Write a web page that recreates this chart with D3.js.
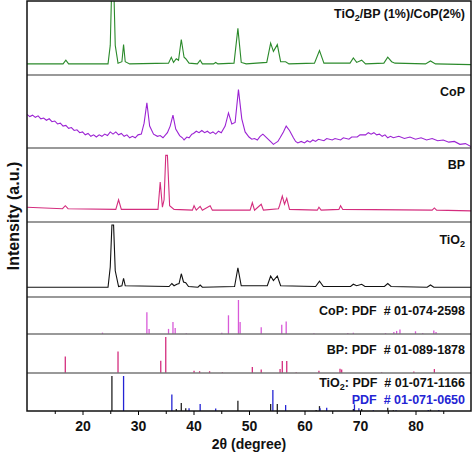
<!DOCTYPE html>
<html><head><meta charset="utf-8">
<script src="https://cdn.jsdelivr.net/npm/d3@7"></script>
<style>body{margin:0;background:#fff}svg{font-family:"Liberation Sans",Arial,sans-serif;font-weight:bold}text{white-space:pre}</style>
</head><body><svg id="xrd" width="474" height="453"></svg>
<script>
// measured curves [2theta, intensity 0-100 within panel]
var compositeData = [[10,15],[16.5,15],[17,20],[17.5,15],[24.6,15],[25.0,40],[25.3,130],[25.6,130],[25.9,40],[26.4,16],[27.1,18],[27.4,41],[27.7,18],[28.5,15],[35.5,16],[36.0,24],[36.4,17],[36.9,22],[37.3,20],[37.8,48],[38.3,24],[38.6,22],[39.2,16],[40.7,15],[41.2,20],[41.6,15],[43.6,15],[44.0,17],[44.4,15],[47.3,16],[48.0,63],[48.6,17],[49.5,15],[53.2,17],[53.9,43],[54.4,32],[55.1,41],[55.7,18],[56.6,18],[57.2,15],[61.8,16],[62.7,33],[63.5,16],[68.2,16],[68.8,23],[69.4,17],[70.3,20],[71.0,15],[74.3,16],[75.0,24],[75.7,18],[76.3,16],[81.8,15],[82.7,19],[83.6,15],[90,14]];
var copData = [[10,46],[10.5,43],[11,45],[11.5,42],[12,44],[12.5,40],[13,41],[13.5,38],[14,40],[14.5,36],[15,37],[15.5,33],[16,34],[16.5,30],[17,31],[17.5,27],[18,28],[18.5,24],[19,25],[19.5,21],[20,22],[20.5,18],[21,20],[21.5,16],[22,18],[22.5,15],[23,18],[23.5,16],[24,19],[24.5,17],[25,22],[25.5,19],[26,22],[26.5,18],[27,20],[27.5,16],[28,18],[28.5,14],[29,16],[29.5,14],[30,18],[30.6,19],[31.1,34],[31.6,62],[32.1,30],[32.8,19],[33.5,16],[34,17],[34.5,14],[35.3,21],[35.8,30],[36.3,45],[36.8,26],[37.5,17],[38,14],[38.3,11],[38.8,15],[39.2,14],[39.7,19],[40,20],[40.5,23],[41,21],[41.5,24],[42,21],[42.5,23],[43,20],[43.5,22],[44,19],[44.5,23],[45,21],[45.7,30],[46.3,48],[46.9,33],[47.5,35],[48.1,80],[48.7,40],[49.3,22],[50,15],[50.5,12],[51,13],[51.5,11],[52,16],[52.5,19],[53.2,14],[54,8],[54.4,5],[54.8,7],[55.2,9],[55.6,14],[56.2,22],[56.7,30],[57.3,24],[58,14],[58.4,9],[58.8,7],[59.4,9],[60,7],[60.5,10],[61,8],[61.5,11],[62,9],[62.5,12],[63.5,10],[64,13],[65,11],[65.5,13],[66.5,11],[67,14],[68,12],[68.5,15],[69.5,15],[70,18],[71,18],[71.5,21],[72,19],[72.5,21],[73,18],[73.5,19],[74,16],[74.5,18],[75,14],[75.5,16],[76,14],[77,16],[78,13],[79,15],[80,12],[81,14],[82,11],[83,13],[84,10],[85,11],[86,8],[87,9],[88,5],[89,6],[90,2]];
var bpData = [[10,20],[16.4,18],[16.9,22],[17.4,18],[26.0,17],[26.5,30],[27.0,17],[33.6,17],[34.0,54],[34.4,20],[34.7,30],[35.0,90],[35.3,90],[35.7,22],[36.5,17],[39.8,16],[40.1,22],[40.5,16],[41.2,21],[41.6,16],[43.0,22],[43.4,16],[50.2,16],[50.6,26],[51.0,16],[52.2,24],[52.6,16],[55.3,18],[55.5,22],[56.0,35],[56.4,24],[56.8,32],[57.3,17],[62.3,16],[62.6,20],[63.0,16],[66.2,17],[66.5,22],[66.9,17],[83.0,16],[83.4,19],[83.8,16],[90,15]];
var tio2Data = [[10,13],[24.6,13],[25.0,40],[25.3,96],[25.6,96],[25.9,35],[26.5,14],[27.1,15],[27.4,25],[27.7,15],[35.6,14],[36.1,18],[36.5,15],[37.0,17],[37.4,18],[37.8,31],[38.2,20],[38.6,19],[39.1,14],[40.8,13],[41.2,16],[41.6,13],[47.4,14],[48.0,39],[48.6,15],[53.3,15],[53.9,28],[54.4,22],[55.1,28],[55.7,15],[62.0,14],[62.7,21],[63.4,14],[68.3,14],[68.8,17],[69.4,15],[70.3,17],[70.9,14],[74.4,14],[75.0,18],[75.6,14],[82.1,13],[82.7,16],[83.3,13],[90,13]];
// reference sticks [2theta, relative intensity]
var copRef = [[23.6,4],[31.6,64],[32.0,15],[35.5,15],[36.3,35],[36.7,18],[38.7,2],[45.1,4],[46.3,55],[48.1,100],[48.4,35],[52.2,20],[55.9,27],[56.7,37],[61.7,2],[67.8,3],[68.8,4],[74.6,3],[76.1,6],[76.6,9],[77.2,13],[80.0,8],[81.3,3],[83.3,10],[83.7,6]];
var bpRef = [[16.9,46],[26.4,60],[34.1,34],[35.0,100],[40.1,6],[41.1,5],[42.9,5],[45.2,2],[50.6,17],[52.2,10],[55.6,11],[56.0,33],[56.8,33],[58.5,2],[62.6,6],[66.4,12],[66.7,10],[73.9,2],[79.7,4],[83.4,11]];
var anataseRef = [[25.3,100],[36.9,6],[37.8,23],[38.6,8],[48.0,29],[53.9,20],[55.1,20],[62.1,3],[62.7,14],[68.8,6],[70.3,6],[75.0,9],[76.0,2],[82.7,4]];
var rutileRef = [[27.4,100],[36.1,47],[39.2,8],[41.2,20],[44.0,7],[54.3,60],[56.6,17],[62.8,8],[64.0,9],[69.0,19],[69.8,8],[72.4,2],[76.5,2],[82.3,3],[84.2,3]];
var xTicks = [20, 30, 40, 50, 60, 70, 80];

var margin = {top: 1, right: 3, bottom: 42, left: 27},
  width = 474 - margin.left - margin.right,
  height = 453 - margin.top - margin.bottom;

var svg = d3.select('#xrd');
var g = svg.append('g').attr('transform', 'translate(' + margin.left + ',' + margin.top + ')');

var x = d3.scaleLinear().domain([10, 90]).range([0, width]);

// panel boundaries (px within plot)
var panels = [
  {y0: 0, y1: 74, data: compositeData, color: '#2b8a2b', label: 'TiO|2|/BP (1%)/CoP(2%)', ly: 17},
  {y0: 74, y1: 147, data: copData, color: '#9b22d3', label: 'CoP', ly: 95},
  {y0: 147, y1: 221, data: bpData, color: '#d42d7e', label: 'BP', ly: 168},
  {y0: 221, y1: 296, data: tio2Data, color: '#111', label: 'TiO|2', ly: 243}
];
var refs = [
  {y0: 296, y1: 333, sets: [[copRef, '#d85ad8']], labels: [['CoP: PDF  # 01-074-2598', '#111', 314]]},
  {y0: 333, y1: 372, sets: [[bpRef, '#d42d7e']], labels: [['BP: PDF  # 01-089-1878', '#111', 353]]},
  {y0: 372, y1: 410, sets: [[anataseRef, '#222'], [rutileRef, '#2424d4']], labels: [['TiO|2|: PDF  # 01-071-1166', '#111', 386], ['PDF  # 01-071-0650', '#2424d4', 403]]}
];

g.append('clipPath').attr('id', 'clip').append('rect').attr('width', width).attr('height', height);

function addLabel(txt, color, yy) {
  var t = g.append('text').attr('x', width - 6).attr('y', yy).attr('text-anchor', 'end')
    .attr('font-size', 12.5).attr('fill', color);
  txt.split('|').forEach(function(part, i) {
    var s = t.append('tspan').text(part);
    if (i % 2 == 1) s.attr('font-size', 9).attr('dy', 3);
    else if (i > 0) s.attr('dy', -3);
  });
}

panels.forEach(function(p) {
  var y = d3.scaleLinear().domain([0, 100]).range([p.y1, p.y0]);
  g.append('path').datum(p.data)
    .attr('clip-path', 'url(#clip)')
    .attr('fill', 'none').attr('stroke', p.color).attr('stroke-width', 1.1)
    .attr('d', d3.line().x(function(d) { return x(d[0]); }).y(function(d) { return y(d[1]); }));
  addLabel(p.label, '#111', p.ly);
});

refs.forEach(function(r) {
  var y = d3.scaleLinear().domain([0, 100]).range([r.y1, r.y0 + 3]);
  r.sets.forEach(function(s) {
    g.selectAll(null).data(s[0]).enter().append('line')
      .attr('x1', function(d) { return x(d[0]); }).attr('x2', function(d) { return x(d[0]); })
      .attr('y1', r.y1).attr('y2', function(d) { return y(d[1]); })
      .attr('stroke', s[1]).attr('stroke-width', 1.3);
  });
  r.labels.forEach(function(l) { addLabel(l[0], l[1], l[2]); });
});

// separators
panels.concat(refs).slice(1).forEach(function(p) {
  g.append('line').attr('x1', 0).attr('x2', width).attr('y1', p.y0).attr('y2', p.y0)
    .attr('stroke', '#777').attr('stroke-width', 1.5);
});

g.append('rect').attr('width', width).attr('height', height)
  .attr('fill', 'none').attr('stroke', '#111').attr('stroke-width', 1.5);

var xAxis = g.append('g').attr('transform', 'translate(0,' + height + ')')
  .call(d3.axisBottom(x).tickValues(xTicks).tickSize(4).tickSizeOuter(0));
xAxis.select('.domain').remove();
xAxis.selectAll('text').attr('font-size', 14).attr('font-weight', 'bold').attr('fill', '#111')
  .attr('font-family', '"Liberation Sans",Arial,sans-serif').attr('dy', '0.9em');
g.append('g').attr('transform', 'translate(0,' + height + ')')
  .call(d3.axisBottom(x).tickValues(d3.range(15, 90, 10)).tickSize(3).tickFormat(''))
  .select('.domain').remove();

svg.append('text').attr('x', margin.left + width / 2).attr('y', 449).attr('text-anchor', 'middle')
  .attr('font-size', 14).attr('fill', '#111').text('2\u03b8 (degree)');
svg.append('text').attr('transform', 'translate(19,' + (margin.top + 215) + ') rotate(-90)')
  .attr('text-anchor', 'middle').attr('font-size', 16).attr('fill', '#111').text('Intensity (a.u.)');
</script></body></html>
